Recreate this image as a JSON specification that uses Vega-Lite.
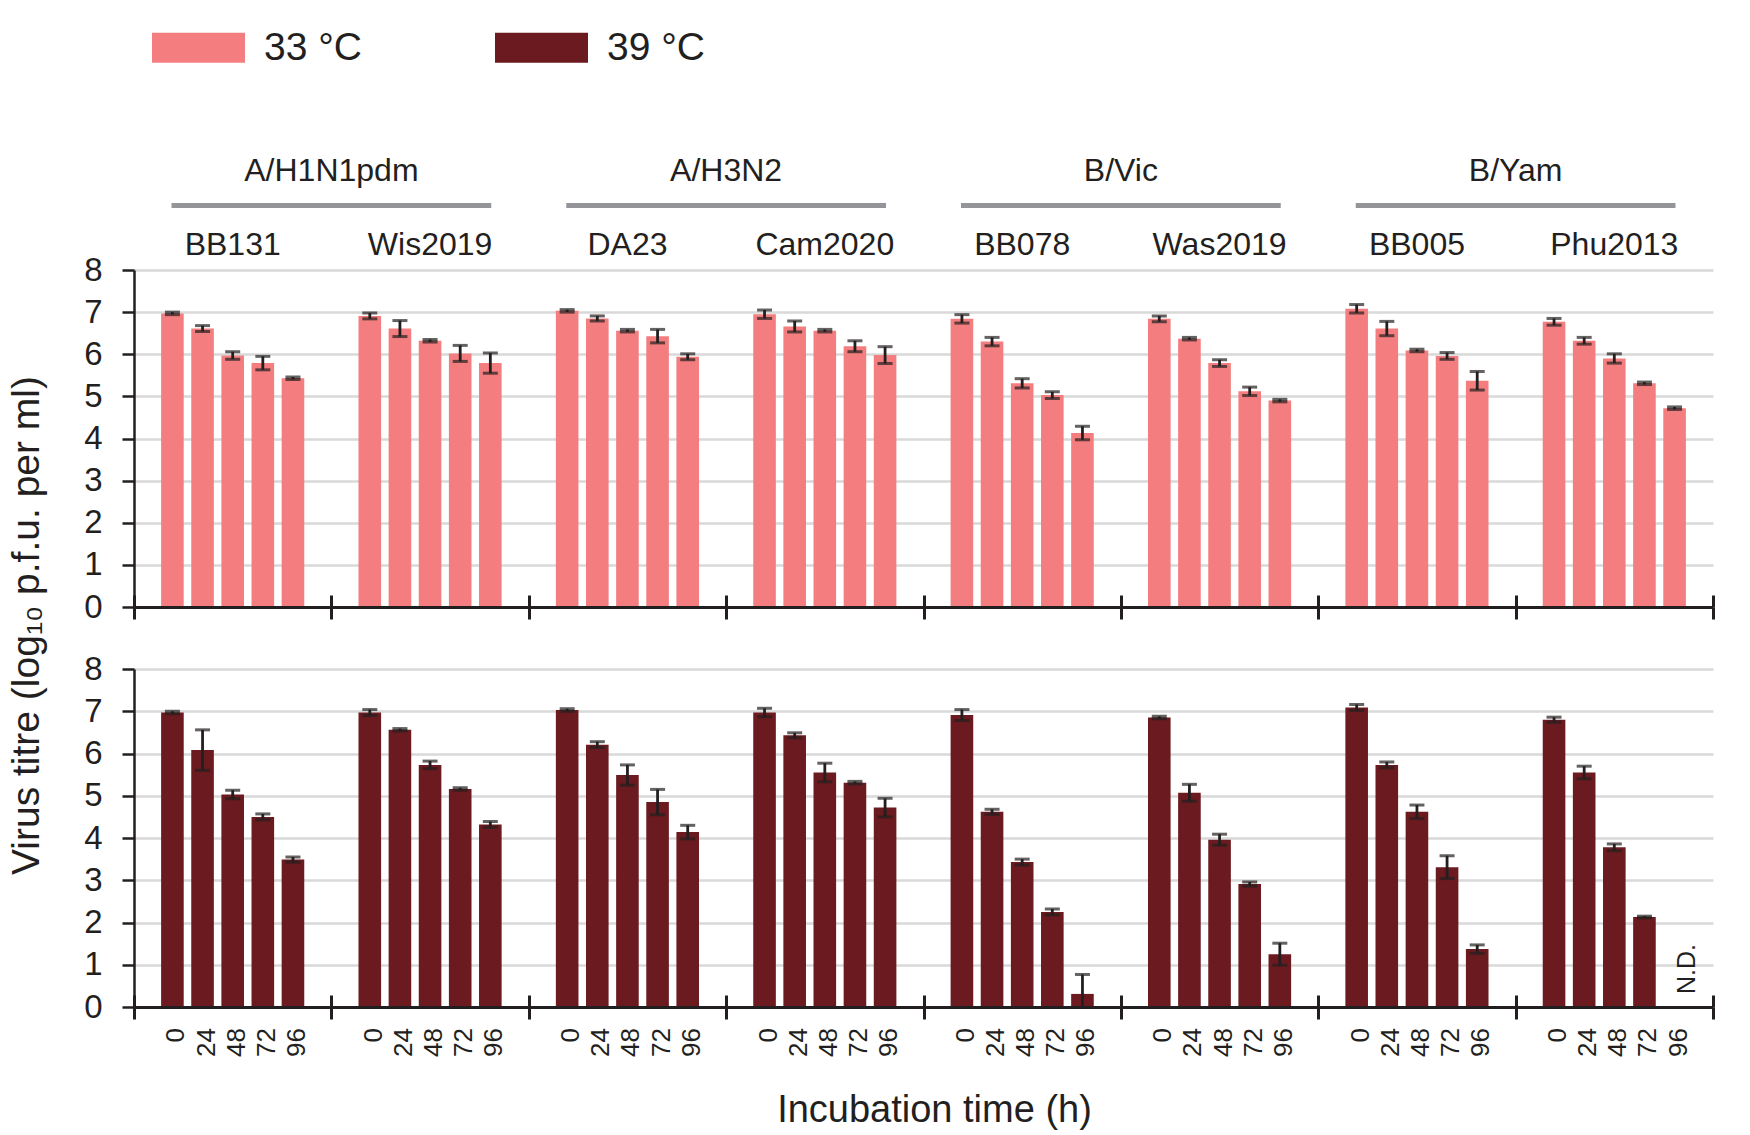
{
  "$schema": "https://vega.github.io/schema/vega-lite/v6.json",
  "background": "white",
  "padding": {"left": 7, "top": 1, "right": 5, "bottom": 5},
  "autosize": {"type": "pad"},
  "data": {
    "values": [
      {"temp": "33 °C", "strain": "BB131", "time": "0", "titre": 6.97, "lo": 6.94, "hi": 7.00},
      {"temp": "33 °C", "strain": "BB131", "time": "24", "titre": 6.61, "lo": 6.54, "hi": 6.68},
      {"temp": "33 °C", "strain": "BB131", "time": "48", "titre": 5.97, "lo": 5.88, "hi": 6.06},
      {"temp": "33 °C", "strain": "BB131", "time": "72", "titre": 5.79, "lo": 5.63, "hi": 5.95},
      {"temp": "33 °C", "strain": "BB131", "time": "96", "titre": 5.43, "lo": 5.40, "hi": 5.46},
      {"temp": "33 °C", "strain": "Wis2019", "time": "0", "titre": 6.91, "lo": 6.84, "hi": 6.98},
      {"temp": "33 °C", "strain": "Wis2019", "time": "24", "titre": 6.61, "lo": 6.42, "hi": 6.80},
      {"temp": "33 °C", "strain": "Wis2019", "time": "48", "titre": 6.32, "lo": 6.29, "hi": 6.35},
      {"temp": "33 °C", "strain": "Wis2019", "time": "72", "titre": 6.02, "lo": 5.83, "hi": 6.21},
      {"temp": "33 °C", "strain": "Wis2019", "time": "96", "titre": 5.79, "lo": 5.55, "hi": 6.03},
      {"temp": "33 °C", "strain": "DA23", "time": "0", "titre": 7.03, "lo": 7.00, "hi": 7.06},
      {"temp": "33 °C", "strain": "DA23", "time": "24", "titre": 6.85, "lo": 6.79, "hi": 6.91},
      {"temp": "33 °C", "strain": "DA23", "time": "48", "titre": 6.56, "lo": 6.53, "hi": 6.59},
      {"temp": "33 °C", "strain": "DA23", "time": "72", "titre": 6.43, "lo": 6.27, "hi": 6.59},
      {"temp": "33 °C", "strain": "DA23", "time": "96", "titre": 5.94, "lo": 5.87, "hi": 6.01},
      {"temp": "33 °C", "strain": "Cam2020", "time": "0", "titre": 6.95, "lo": 6.85, "hi": 7.05},
      {"temp": "33 °C", "strain": "Cam2020", "time": "24", "titre": 6.66, "lo": 6.53, "hi": 6.79},
      {"temp": "33 °C", "strain": "Cam2020", "time": "48", "titre": 6.56, "lo": 6.53, "hi": 6.59},
      {"temp": "33 °C", "strain": "Cam2020", "time": "72", "titre": 6.19, "lo": 6.06, "hi": 6.32},
      {"temp": "33 °C", "strain": "Cam2020", "time": "96", "titre": 5.98, "lo": 5.78, "hi": 6.18},
      {"temp": "33 °C", "strain": "BB078", "time": "0", "titre": 6.84, "lo": 6.74, "hi": 6.94},
      {"temp": "33 °C", "strain": "BB078", "time": "24", "titre": 6.30, "lo": 6.20, "hi": 6.40},
      {"temp": "33 °C", "strain": "BB078", "time": "48", "titre": 5.31, "lo": 5.20, "hi": 5.42},
      {"temp": "33 °C", "strain": "BB078", "time": "72", "titre": 5.03, "lo": 4.95, "hi": 5.11},
      {"temp": "33 °C", "strain": "BB078", "time": "96", "titre": 4.13, "lo": 3.97, "hi": 4.29},
      {"temp": "33 °C", "strain": "Was2019", "time": "0", "titre": 6.84, "lo": 6.77, "hi": 6.91},
      {"temp": "33 °C", "strain": "Was2019", "time": "24", "titre": 6.37, "lo": 6.34, "hi": 6.40},
      {"temp": "33 °C", "strain": "Was2019", "time": "48", "titre": 5.79, "lo": 5.71, "hi": 5.87},
      {"temp": "33 °C", "strain": "Was2019", "time": "72", "titre": 5.12, "lo": 5.02, "hi": 5.22},
      {"temp": "33 °C", "strain": "Was2019", "time": "96", "titre": 4.90, "lo": 4.87, "hi": 4.93},
      {"temp": "33 °C", "strain": "BB005", "time": "0", "titre": 7.08, "lo": 6.98, "hi": 7.18},
      {"temp": "33 °C", "strain": "BB005", "time": "24", "titre": 6.61, "lo": 6.44, "hi": 6.78},
      {"temp": "33 °C", "strain": "BB005", "time": "48", "titre": 6.09, "lo": 6.06, "hi": 6.12},
      {"temp": "33 °C", "strain": "BB005", "time": "72", "titre": 5.96, "lo": 5.88, "hi": 6.04},
      {"temp": "33 °C", "strain": "BB005", "time": "96", "titre": 5.37, "lo": 5.15, "hi": 5.59},
      {"temp": "33 °C", "strain": "Phu2013", "time": "0", "titre": 6.77, "lo": 6.69, "hi": 6.85},
      {"temp": "33 °C", "strain": "Phu2013", "time": "24", "titre": 6.32, "lo": 6.24, "hi": 6.40},
      {"temp": "33 °C", "strain": "Phu2013", "time": "48", "titre": 5.90, "lo": 5.79, "hi": 6.01},
      {"temp": "33 °C", "strain": "Phu2013", "time": "72", "titre": 5.31, "lo": 5.28, "hi": 5.34},
      {"temp": "33 °C", "strain": "Phu2013", "time": "96", "titre": 4.72, "lo": 4.69, "hi": 4.75},
      {"temp": "39 °C", "strain": "BB131", "time": "0", "titre": 6.97, "lo": 6.94, "hi": 7.00},
      {"temp": "39 °C", "strain": "BB131", "time": "24", "titre": 6.08, "lo": 5.60, "hi": 6.56},
      {"temp": "39 °C", "strain": "BB131", "time": "48", "titre": 5.03, "lo": 4.93, "hi": 5.13},
      {"temp": "39 °C", "strain": "BB131", "time": "72", "titre": 4.50, "lo": 4.43, "hi": 4.57},
      {"temp": "39 °C", "strain": "BB131", "time": "96", "titre": 3.49, "lo": 3.43, "hi": 3.55},
      {"temp": "39 °C", "strain": "Wis2019", "time": "0", "titre": 6.97, "lo": 6.90, "hi": 7.04},
      {"temp": "39 °C", "strain": "Wis2019", "time": "24", "titre": 6.56, "lo": 6.53, "hi": 6.59},
      {"temp": "39 °C", "strain": "Wis2019", "time": "48", "titre": 5.73, "lo": 5.64, "hi": 5.82},
      {"temp": "39 °C", "strain": "Wis2019", "time": "72", "titre": 5.16, "lo": 5.13, "hi": 5.19},
      {"temp": "39 °C", "strain": "Wis2019", "time": "96", "titre": 4.32, "lo": 4.25, "hi": 4.39},
      {"temp": "39 °C", "strain": "DA23", "time": "0", "titre": 7.03, "lo": 7.00, "hi": 7.06},
      {"temp": "39 °C", "strain": "DA23", "time": "24", "titre": 6.21, "lo": 6.14, "hi": 6.28},
      {"temp": "39 °C", "strain": "DA23", "time": "48", "titre": 5.49, "lo": 5.25, "hi": 5.73},
      {"temp": "39 °C", "strain": "DA23", "time": "72", "titre": 4.85, "lo": 4.55, "hi": 5.15},
      {"temp": "39 °C", "strain": "DA23", "time": "96", "titre": 4.14, "lo": 3.98, "hi": 4.30},
      {"temp": "39 °C", "strain": "Cam2020", "time": "0", "titre": 6.97, "lo": 6.87, "hi": 7.07},
      {"temp": "39 °C", "strain": "Cam2020", "time": "24", "titre": 6.43, "lo": 6.37, "hi": 6.49},
      {"temp": "39 °C", "strain": "Cam2020", "time": "48", "titre": 5.55, "lo": 5.33, "hi": 5.77},
      {"temp": "39 °C", "strain": "Cam2020", "time": "72", "titre": 5.31, "lo": 5.28, "hi": 5.34},
      {"temp": "39 °C", "strain": "Cam2020", "time": "96", "titre": 4.72, "lo": 4.50, "hi": 4.94},
      {"temp": "39 °C", "strain": "BB078", "time": "0", "titre": 6.91, "lo": 6.78, "hi": 7.04},
      {"temp": "39 °C", "strain": "BB078", "time": "24", "titre": 4.62, "lo": 4.56, "hi": 4.68},
      {"temp": "39 °C", "strain": "BB078", "time": "48", "titre": 3.43, "lo": 3.36, "hi": 3.50},
      {"temp": "39 °C", "strain": "BB078", "time": "72", "titre": 2.25, "lo": 2.18, "hi": 2.32},
      {"temp": "39 °C", "strain": "BB078", "time": "96", "titre": 0.31, "lo": -0.15, "hi": 0.77},
      {"temp": "39 °C", "strain": "Was2019", "time": "0", "titre": 6.85, "lo": 6.82, "hi": 6.88},
      {"temp": "39 °C", "strain": "Was2019", "time": "24", "titre": 5.07, "lo": 4.87, "hi": 5.27},
      {"temp": "39 °C", "strain": "Was2019", "time": "48", "titre": 3.96, "lo": 3.83, "hi": 4.09},
      {"temp": "39 °C", "strain": "Was2019", "time": "72", "titre": 2.91, "lo": 2.86, "hi": 2.96},
      {"temp": "39 °C", "strain": "Was2019", "time": "96", "titre": 1.25, "lo": 0.99, "hi": 1.51},
      {"temp": "39 °C", "strain": "BB005", "time": "0", "titre": 7.09, "lo": 7.02, "hi": 7.16},
      {"temp": "39 °C", "strain": "BB005", "time": "24", "titre": 5.73, "lo": 5.66, "hi": 5.80},
      {"temp": "39 °C", "strain": "BB005", "time": "48", "titre": 4.62, "lo": 4.46, "hi": 4.78},
      {"temp": "39 °C", "strain": "BB005", "time": "72", "titre": 3.31, "lo": 3.04, "hi": 3.58},
      {"temp": "39 °C", "strain": "BB005", "time": "96", "titre": 1.37, "lo": 1.27, "hi": 1.47},
      {"temp": "39 °C", "strain": "Phu2013", "time": "0", "titre": 6.80, "lo": 6.74, "hi": 6.86},
      {"temp": "39 °C", "strain": "Phu2013", "time": "24", "titre": 5.55, "lo": 5.40, "hi": 5.70},
      {"temp": "39 °C", "strain": "Phu2013", "time": "48", "titre": 3.78, "lo": 3.70, "hi": 3.86},
      {"temp": "39 °C", "strain": "Phu2013", "time": "72", "titre": 2.13, "lo": 2.11, "hi": 2.15},
      {"temp": "39 °C", "strain": "Phu2013", "time": "96", "titre": null, "lo": null, "hi": null, "note": "N.D."}
    ]
  },
  "vconcat": [
    {
      "data": {"values": [{"group": "A/H1N1pdm"}, {"group": "A/H3N2"}, {"group": "B/Vic"}, {"group": "B/Yam"}]},
      "width": 1579,
      "height": 5,
      "mark": {"type": "bar", "color": "#939598"},
      "encoding": {
        "x": {
          "field": "group", "type": "nominal", "sort": null,
          "scale": {"paddingInner": 0.19, "paddingOuter": 0.095},
          "axis": {"orient": "top", "ticks": false, "domain": false, "labelAngle": 0, "labelFontSize": 32, "labelLimit": 0, "labelPadding": 16, "title": null, "grid": false}
        }
      }
    },
    {
      "width": 1579,
      "height": 337,
      "transform": [{"filter": "datum.temp === '33 °C'"}],
      "layer": [
        {
          "mark": {"type": "bar"},
          "encoding": {
            "x": {"field": "strain", "type": "nominal", "scale": {"domain": ["BB131", "Wis2019", "DA23", "Cam2020", "BB078", "Was2019", "BB005", "Phu2013"], "paddingInner": 0, "paddingOuter": 0},
                  "axis": {"orient": "bottom", "tickBand": "extent", "tickSize": 12, "labels": false, "title": null, "grid": false, "zindex": 1}},
            "xOffset": {"field": "time", "type": "nominal", "scale": {"domain": ["0", "24", "48", "72", "96"], "paddingInner": 0.25, "paddingOuter": 0.9}},
            "y": {"field": "titre", "type": "quantitative", "scale": {"domain": [0, 8], "nice": false},
                  "axis": {"values": [0, 1, 2, 3, 4, 5, 6, 7, 8], "title": "Virus titre  (log₁₀ p.f.u. per ml)", "titleFontSize": 39, "titleX": -88, "titleY": 355, "labelFontSize": 33, "labelPadding": 20, "tickSize": 12, "tickWidth": 2.5, "domainWidth": 2.5, "grid": true}},
            "color": {"field": "temp", "type": "nominal", "scale": {"domain": ["33 °C", "39 °C"], "range": ["#F47E7F", "#6B1A1F"]},
                      "legend": {"orient": "none", "legendX": 18, "legendY": -202, "direction": "horizontal", "title": null, "symbolType": "M-1,-0.32L1,-0.32L1,0.32L-1,0.32Z", "symbolSize": 8649, "symbolStrokeWidth": 0, "labelFontSize": 39, "labelOffset": 19, "columnPadding": 133, "padding": 0}}
          }
        },
        {
          "transform": [{"filter": "datum.lo != null"}],
          "mark": {"type": "rule", "strokeWidth": 2.8, "color": "#231f20", "clip": true},
          "encoding": {
            "x": {"field": "strain", "type": "nominal", "scale": {"domain": ["BB131", "Wis2019", "DA23", "Cam2020", "BB078", "Was2019", "BB005", "Phu2013"], "paddingInner": 0, "paddingOuter": 0},
                  "axis": {"orient": "top", "ticks": false, "domain": false, "labelAngle": 0, "labelFontSize": 32, "labelLimit": 0, "labelPadding": 9, "title": null, "grid": false}},
            "xOffset": {"field": "time", "type": "nominal"},
            "y": {"field": "lo", "type": "quantitative"},
            "y2": {"field": "hi"}
          }
        },
        {
          "transform": [{"filter": "datum.lo != null"}, {"fold": ["lo", "hi"], "as": ["end", "v"]}],
          "mark": {"type": "tick", "thickness": 3, "size": 15, "color": "#231f20", "clip": true},
          "encoding": {
            "x": {"field": "strain", "type": "nominal", "scale": {"domain": ["BB131", "Wis2019", "DA23", "Cam2020", "BB078", "Was2019", "BB005", "Phu2013"], "paddingInner": 0, "paddingOuter": 0},
                  "axis": {"orient": "bottom", "tickBand": "extent", "tickSize": -12, "labels": false, "domain": false, "title": null, "grid": false, "zindex": 1}},
            "xOffset": {"field": "time", "type": "nominal"},
            "y": {"field": "v", "type": "quantitative"}
          }
        }
      ],
      "resolve": {"axis": {"x": "independent"}}
    },
    {
      "width": 1579,
      "height": 338,
      "transform": [{"filter": "datum.temp === '39 °C'"}],
      "layer": [
        {
          "transform": [{"filter": "datum.titre != null"}],
          "mark": {"type": "bar"},
          "encoding": {
            "x": {"field": "strain", "type": "nominal", "scale": {"domain": ["BB131", "Wis2019", "DA23", "Cam2020", "BB078", "Was2019", "BB005", "Phu2013"], "paddingInner": 0, "paddingOuter": 0},
                  "axis": {"orient": "bottom", "tickBand": "extent", "tickSize": 12, "labels": false, "grid": false, "zindex": 1, "title": "Incubation time (h)", "titleFontSize": 38, "titleX": 800, "titleY": 84}},
            "xOffset": {"field": "time", "type": "nominal", "scale": {"domain": ["0", "24", "48", "72", "96"], "paddingInner": 0.25, "paddingOuter": 0.9}},
            "y": {"field": "titre", "type": "quantitative", "scale": {"domain": [0, 8], "nice": false},
                  "axis": {"values": [0, 1, 2, 3, 4, 5, 6, 7, 8], "title": null, "labelFontSize": 33, "labelPadding": 20, "tickSize": 12, "tickWidth": 2.5, "domainWidth": 2.5, "grid": true}},
            "color": {"field": "temp", "type": "nominal", "scale": {"domain": ["33 °C", "39 °C"], "range": ["#F47E7F", "#6B1A1F"]},
                      "legend": {"orient": "none", "legendX": 18, "legendY": -202, "direction": "horizontal", "title": null, "symbolType": "M-1,-0.32L1,-0.32L1,0.32L-1,0.32Z", "symbolSize": 8649, "symbolStrokeWidth": 0, "labelFontSize": 39, "labelOffset": 19, "columnPadding": 133, "padding": 0}}
          }
        },
        {
          "transform": [{"filter": "datum.lo != null"}],
          "mark": {"type": "rule", "strokeWidth": 2.8, "color": "#231f20", "clip": true},
          "encoding": {
            "x": {"field": "strain", "type": "nominal", "scale": {"domain": ["BB131", "Wis2019", "DA23", "Cam2020", "BB078", "Was2019", "BB005", "Phu2013"], "paddingInner": 0, "paddingOuter": 0}, "axis": null},
            "xOffset": {"field": "time", "type": "nominal"},
            "y": {"field": "lo", "type": "quantitative"},
            "y2": {"field": "hi"}
          }
        },
        {
          "transform": [{"filter": "datum.lo != null"}, {"fold": ["lo", "hi"], "as": ["end", "v"]}],
          "mark": {"type": "tick", "thickness": 3, "size": 15, "color": "#231f20", "clip": true},
          "encoding": {
            "x": {"field": "strain", "type": "nominal", "scale": {"domain": ["BB131", "Wis2019", "DA23", "Cam2020", "BB078", "Was2019", "BB005", "Phu2013"], "paddingInner": 0, "paddingOuter": 0},
                  "axis": {"orient": "bottom", "tickBand": "extent", "tickSize": -12, "labels": false, "domain": false, "title": null, "grid": false, "zindex": 1}},
            "xOffset": {"field": "time", "type": "nominal"},
            "y": {"field": "v", "type": "quantitative"}
          }
        },
        {
          "mark": {"type": "text", "angle": 270, "align": "right", "baseline": "middle", "dx": -21, "dy": 4, "fontSize": 26, "color": "#231f20"},
          "encoding": {
            "x": {"field": "strain", "type": "nominal", "scale": {"domain": ["BB131", "Wis2019", "DA23", "Cam2020", "BB078", "Was2019", "BB005", "Phu2013"], "paddingInner": 0, "paddingOuter": 0}, "axis": null},
            "xOffset": {"field": "time", "type": "nominal"},
            "y": {"datum": 0},
            "text": {"field": "time"}
          }
        },
        {
          "transform": [{"filter": "datum.note != null"}],
          "mark": {"type": "text", "angle": 270, "align": "left", "baseline": "middle", "dx": 13, "dy": 12, "fontSize": 25, "color": "#231f20"},
          "encoding": {
            "x": {"field": "strain", "type": "nominal", "scale": {"domain": ["BB131", "Wis2019", "DA23", "Cam2020", "BB078", "Was2019", "BB005", "Phu2013"], "paddingInner": 0, "paddingOuter": 0}, "axis": null},
            "xOffset": {"field": "time", "type": "nominal"},
            "y": {"datum": 0},
            "text": {"field": "note"}
          }
        }
      ],
      "resolve": {"axis": {"x": "independent"}}
    }
  ],
  "spacing": 62,
  "bounds": "flush",
  "resolve": {"scale": {"x": "independent"}},
  "config": {
    "font": "Liberation Sans",
    "view": {"stroke": null},
    "axis": {
      "labelColor": "#231f20", "titleColor": "#231f20", "domainColor": "#231f20", "tickColor": "#231f20",
      "labelFontWeight": "normal", "titleFontWeight": "normal",
      "gridColor": "#d9d9d9", "gridWidth": 2.5, "domainWidth": 3, "tickWidth": 3
    },
    "legend": {"labelColor": "#231f20"}
  }
}
